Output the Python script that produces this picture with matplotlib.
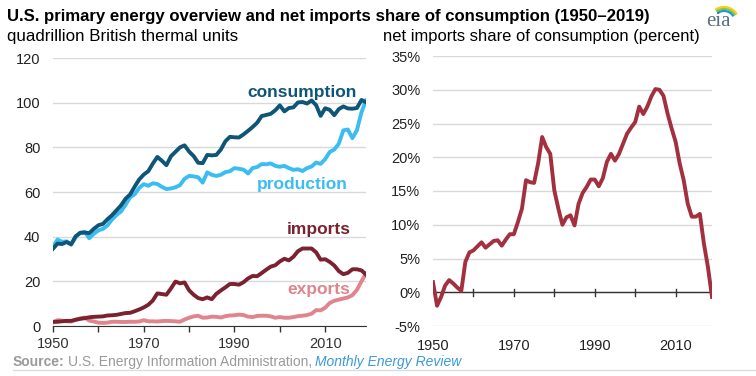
import numpy as np
import matplotlib.pyplot as plt
from matplotlib.patches import Arc

plt.rcParams['font.family'] = ['Liberation Sans', 'DejaVu Sans']

years = list(range(1950, 2020))

# quadrillion Btu
consumption = [34.6, 36.9, 36.7, 37.6, 36.6, 40.2, 41.7, 41.8, 41.6, 43.5,
               45.1, 45.7, 47.8, 49.6, 51.8, 54.0, 57.0, 58.9, 62.4, 65.6,
               67.8, 69.3, 72.7, 75.7, 74.0, 72.0, 76.0, 78.0, 80.0, 80.9,
               78.1, 76.1, 73.1, 72.9, 76.6, 76.4, 76.6, 79.0, 82.7, 84.7,
               84.5, 84.4, 85.8, 87.4, 89.1, 91.0, 94.0, 94.5, 95.0, 96.6,
               98.8, 96.1, 97.6, 97.9, 100.1, 100.3, 99.6, 101.0, 98.9, 94.1,
               97.5, 96.8, 94.4, 97.1, 98.3, 97.4, 97.3, 97.6, 101.2, 100.2]
production = [35.5, 38.7, 37.7, 37.9, 36.4, 39.7, 41.8, 42.2, 39.3, 41.3,
              42.8, 43.5, 45.0, 47.7, 49.7, 51.3, 54.3, 57.6, 59.0, 61.8,
              63.5, 62.8, 63.9, 63.6, 62.3, 61.3, 61.6, 62.1, 63.1, 65.9,
              67.2, 67.0, 66.6, 64.2, 68.8, 67.7, 67.2, 67.7, 68.9, 69.3,
              70.7, 70.4, 70.0, 68.3, 70.7, 71.2, 72.5, 72.4, 72.8, 71.7,
              71.3, 71.7, 70.7, 69.9, 70.2, 69.4, 70.7, 71.4, 73.2, 72.6,
              74.7, 77.9, 79.0, 81.6, 87.6, 88.0, 84.1, 87.7, 95.7, 101.0]
imports = [1.9, 1.9, 2.1, 2.3, 2.3, 2.8, 3.2, 3.5, 3.9, 4.1,
           4.2, 4.3, 4.7, 4.8, 5.0, 5.4, 5.8, 5.9, 6.6, 7.4,
           8.3, 9.5, 11.4, 14.6, 14.3, 14.0, 16.8, 19.9, 19.1, 19.5,
           16.0, 14.0, 12.5, 12.0, 12.8, 12.0, 14.4, 15.9, 17.3, 18.8,
           18.8, 18.5, 19.6, 21.3, 22.4, 22.3, 23.7, 25.2, 26.6, 27.2,
           28.9, 30.1, 29.4, 31.0, 33.5, 34.7, 34.7, 34.7, 33.0, 29.7,
           29.9, 28.7, 27.1, 24.6, 23.2, 23.8, 25.4, 25.4, 24.9, 23.0]
exports = [1.5, 2.6, 2.4, 2.1, 2.0, 2.8, 3.4, 3.8, 2.4, 2.0,
           1.5, 1.4, 1.5, 1.9, 1.9, 1.8, 1.8, 1.9, 1.9, 2.0,
           2.6, 2.1, 2.1, 2.0, 2.2, 2.3, 2.2, 2.1, 1.9, 2.9,
           3.7, 4.3, 4.6, 3.7, 3.8, 4.2, 4.1, 3.8, 4.4, 4.7,
           4.8, 5.1, 4.9, 4.2, 4.0, 4.5, 4.6, 4.6, 4.3, 3.7,
           4.0, 3.7, 3.7, 4.0, 4.4, 4.6, 4.9, 5.5, 7.1, 7.0,
           8.2, 10.3, 11.3, 11.8, 12.3, 12.8, 13.8, 16.2, 20.0, 23.5]

# percent
net_share = [1.5, -2.0, -0.7, 1.0, 1.8, 1.3, 0.7, 0.2, 4.5, 5.9,
             6.2, 6.8, 7.4, 6.6, 7.1, 7.6, 7.7, 6.9, 7.8, 8.6,
             8.6, 10.4, 12.4, 16.6, 16.3, 16.2, 19.1, 23.0, 21.5, 20.5,
             15.1, 12.4, 10.0, 11.1, 11.4, 9.9, 13.1, 14.7, 15.6, 16.7,
             16.7, 15.7, 16.9, 19.3, 20.5, 19.5, 20.5, 22.0, 23.5, 24.4,
             25.2, 27.5, 26.4, 27.5, 29.0, 30.1, 30.0, 29.1, 26.5, 24.3,
             22.3, 19.1, 16.6, 13.1, 11.2, 11.2, 11.6, 7.2, 3.7, -0.7]

c_cons = '#0f5578'
c_prod = '#3cbdf2'
c_imp = '#7b2230'
c_exp = '#e0848d'
c_share = '#a3303e'
grid_c = '#d9d9d9'
W, H = 756, 376

fig = plt.figure(figsize=(W / 100, H / 100), dpi=100)


def box(x0, y0, x1, y1):
    return [x0 / W, 1 - y1 / H, (x1 - x0) / W, (y1 - y0) / H]


ax1 = fig.add_axes(box(53, 58, 366, 326))
ax2 = fig.add_axes(box(433, 56, 712, 326))

# ----- left panel -----
for vals, col in [(exports, c_exp), (imports, c_imp), (production, c_prod), (consumption, c_cons)]:
    ax1.plot(years, vals, color=col, lw=2.8, solid_joinstyle='round', zorder=3)
ax1.set_xlim(1950, 2019)
ax1.set_ylim(0, 120)
ax1.set_yticks(range(0, 121, 20))
ax1.set_xticks(range(1950, 2020, 10))
ax1.set_xticklabels(['1950', '', '1970', '', '1990', '', '2010'])
ax1.tick_params(axis='y', length=0, pad=9, labelsize=10.5, colors='#222222')
ax1.tick_params(axis='x', length=4, width=1, direction='out', colors='#333333', pad=4, labelsize=10.5)
ax1.grid(axis='y', color=grid_c, lw=1)
for s in ['top', 'right', 'left']:
    ax1.spines[s].set_visible(False)
ax1.spines['bottom'].set_color('#333333')
ax1.set_axisbelow(True)

lab_kw = dict(fontsize=12.5, fontweight='bold', ha='center', va='center')
ax1.text(2005.0, 104.5, 'consumption', color=c_cons, **lab_kw)
ax1.text(2005.0, 63.5, 'production', color=c_prod, **lab_kw)
ax1.text(2008.5, 43.0, 'imports', color=c_imp, **lab_kw)
ax1.text(2008.5, 16.5, 'exports', color=c_exp, **lab_kw)

# ----- right panel -----
ax2.plot(years, net_share, color=c_share, lw=2.8, solid_joinstyle='round', zorder=3)
ax2.set_xlim(1950, 2019)
ax2.set_ylim(-5, 35)
ax2.set_yticks(range(-5, 36, 5))
ax2.set_yticklabels([f'{v}%' for v in range(-5, 36, 5)])
ax2.set_xticks(range(1950, 2020, 10))
ax2.set_xticklabels(['1950', '', '1970', '', '1990', '', '2010'])
ax2.tick_params(axis='y', length=0, pad=9, labelsize=10.5, colors='#222222')
ax2.tick_params(axis='x', length=0, pad=9, labelsize=10.5, colors='#222222')
ax2.grid(axis='y', color=grid_c, lw=1)
for s in ['top', 'right', 'left', 'bottom']:
    ax2.spines[s].set_visible(False)
ax2.axhline(0, color='#333333', lw=1, zorder=2)
for yr in range(1960, 2020, 10):
    ax2.plot([yr, yr], [-0.5, 0.5], color='#333333', lw=1, zorder=2)
ax2.set_axisbelow(True)

# ----- titles -----
fig.text(7 / W, 1 - 16 / H, 'U.S. primary energy overview and net imports share of consumption (1950\u20132019)',
         fontsize=12.1, fontweight='bold', va='center', ha='left')
fig.text(7 / W, 1 - 36 / H, 'quadrillion British thermal units', fontsize=12.2, va='center', ha='left')
fig.text(383 / W, 1 - 36 / H, 'net imports share of consumption (percent)', fontsize=11.9, va='center', ha='left')

# source line
src_y = 1 - 362 / H
t1 = fig.text(13 / W, src_y, 'Source:', fontsize=10, fontweight='bold', color='#9a9a9a', va='center')
fig.canvas.draw()
bb = t1.get_window_extent()
t2 = fig.text(bb.x1 / W + 0.004, src_y, 'U.S. Energy Information Administration,', fontsize=10,
              color='#9a9a9a', va='center')
fig.canvas.draw()
bb = t2.get_window_extent()
fig.text(bb.x1 / W + 0.004, src_y, 'Monthly Energy Review', fontsize=10, style='italic',
         color='#3a9ad9', va='center')
fig.add_artist(plt.Line2D([13 / W, 1.0], [1 - 370 / H, 1 - 370 / H], color='#dcdcdc', lw=1))

# eia logo
fig.text(718 / W, 1 - 22 / H, 'eia', fontsize=15, family='Liberation Serif', color='#5a6e80',
         ha='center', va='center')
for r, col in [(15, '#f2d21b'), (13, '#8cc63f'), (11, '#1f9ad6')]:
    fig.add_artist(Arc((724 / W, 1 - 22 / H), 2 * r / W, 2 * r / H, theta1=50, theta2=110,
                       color=col, lw=1.6, transform=fig.transFigure))

fig.savefig('out.png', dpi=100)
